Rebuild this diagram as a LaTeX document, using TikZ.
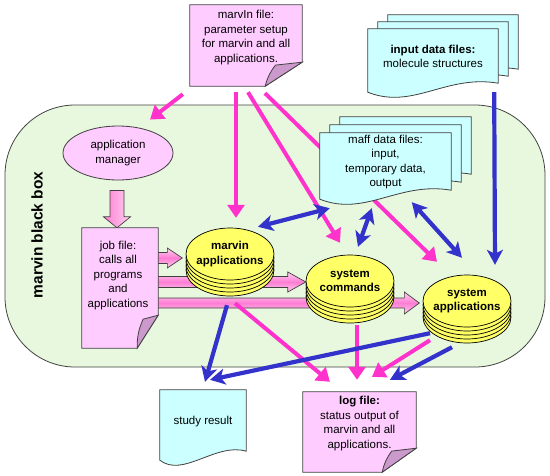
\documentclass[tikz,border=0pt]{standalone}
\usepackage{fontspec}
\setmainfont{Liberation Sans}
\usepackage{xcolor}
\usepackage{tikz}
\usetikzlibrary{arrows.meta,calc,shapes.geometric,positioning}

\definecolor{notepink}{RGB}{255,204,255}
\definecolor{folddark}{RGB}{204,153,204}
\definecolor{doccyan}{RGB}{204,255,255}
\definecolor{boxgreen}{RGB}{232,248,222}
\definecolor{diskyellow}{RGB}{255,255,102}
\definecolor{arrowpink}{RGB}{255,51,204}
\definecolor{arrowblue}{RGB}{51,51,204}
\definecolor{blockpink}{RGB}{255,102,204}
\definecolor{edgegray}{RGB}{64,64,64}

\pgfdeclarelayer{bottom}
\pgfdeclarelayer{back}
\pgfsetlayers{bottom,back,main}

% note page with a turned corner: node, fold width, fold height
\newcommand{\notepage}[3]{%
  \filldraw[notefill] (#1.north west) -- (#1.north east) -- ([yshift=#3]#1.south east)
    -- ([xshift=-#2]#1.south east) -- (#1.south west) -- cycle;
  \filldraw[foldfill] ([xshift=-#2]#1.south east) to[bend left=12]
    ([xshift={-0.72*#2}, yshift={0.88*#3}]#1.south east) -- ([yshift=#3]#1.south east) -- cycle;}
% document page with a wavy lower edge
\newcommand{\docpage}[2][]{%
  \filldraw[docfill,#1] (#2.south west) -- (#2.north west) -- (#2.north east) -- ($(#2.south east)+(0,-9)$)
    .. controls ($(#2.south)+(13,-18)$) and ($(#2.south)+(-20,18)$) .. (#2.south west) -- cycle;}
% pile of disks
\newcommand{\diskpile}[1]{%
  \foreach \drop in {16,12,8,4}{\filldraw[diskfill] ($(#1.center)+(0,\drop)$) ellipse [x radius=44pt, y radius=26pt];}
  \filldraw[diskfill] (#1.center) ellipse [x radius=44pt, y radius=26pt];}
% broad shaded arrow to the right: start, tip, half shaft, half head, head length
\newcommand{\hblock}[5]{%
  \path[blockarrow] let \p1=(#1), \p2=(#2) in
    (\x1,{\y1+#3pt}) -- ({\x2-#5pt},{\y1+#3pt}) -- ({\x2-#5pt},{\y1+#4pt}) -- (\x2,\y1)
    -- ({\x2-#5pt},{\y1-#4pt}) -- ({\x2-#5pt},{\y1-#3pt}) -- (\x1,{\y1-#3pt}) -- cycle;}

\begin{document}
\begin{tikzpicture}[x=1pt, y=-1pt, line join=round,
    txt/.style={font=\fontsize{11.5}{14.5}\selectfont, align=center, inner sep=0pt},
    boldtxt/.style={txt, font=\fontsize{11.5}{14.5}\selectfont\bfseries},
    spot/.style 2 args={inner sep=0pt, minimum width=#1, minimum height=#2},
    notefill/.style={fill=notepink, draw=edgegray, line width=0.8pt},
    foldfill/.style={fill=folddark, draw=edgegray, line width=0.8pt},
    docfill/.style={fill=doccyan, draw=edgegray, line width=0.8pt},
    diskfill/.style={fill=diskyellow, draw=black, line width=0.7pt},
    blockarrow/.style={draw=edgegray, line width=0.7pt, top color=blockpink!30!white,
      bottom color=blockpink!30!white, middle color=blockpink!85!white},
    blockdown/.style={draw=edgegray, line width=0.7pt, left color=blockpink!85!white,
      right color=blockpink!30!white},
    pinkarrow/.style={arrowpink, line width=4pt, -{Triangle[length=13pt,width=17pt]}},
    bluearrow/.style={arrowblue, line width=4.2pt, -{Stealth[length=15pt,width=16pt,inset=4pt]}},
    blueboth/.style={bluearrow, {Stealth[length=15pt,width=16pt,inset=4pt]}-{Stealth[length=15pt,width=16pt,inset=4pt]}}]
    \useasboundingbox (0,0) rectangle (550,475);

    % the black box
    \begin{pgfonlayer}{bottom}
        \node[spot={540pt}{262pt}, fill=boxgreen, draw=edgegray, line width=0.8pt, rounded corners=70pt] (blackbox) at (275,236) {};
    \end{pgfonlayer}
    \node[txt, font=\fontsize{15.5}{18}\selectfont\bfseries, rotate=90] (boxtitle) at (37,235) {marvin black box};

    % files and programs
    \node[spot={112pt}{81pt}] (marvln) at (246,45.5) {};
    \node[txt] (marvlntext) at ($(marvln)+(0,-8)$) {marvIn file:\\parameter setup\\for marvin and all\\applications.};
    \node[spot={130pt}{63pt}] (inputdoc) at (433,60.5) {};
    \node[txt] (inputtext) at ($(inputdoc)+(0,-4)$) {\textbf{input data files:}\\molecule structures};
    \node[spot={131pt}{66pt}] (maffdoc) at (385.5,166) {};
    \node[txt] (mafftext) at ($(maffdoc)+(0,-4)$) {maff data files:\\input,\\temporary data,\\output};
    \node[ellipse, spot={110pt}{54pt}, fill=notepink, draw=edgegray, line width=0.8pt, txt] (appmgr) at (118,153) {application\\manager};
    \node[spot={76pt}{120pt}] (jobfile) at (120,288) {};
    \node[txt] (jobtext) at ($(jobfile)+(-2,-12.5)$) {job file:\\calls all\\programs\\and\\applications};
    \node[ellipse, spot={88pt}{52pt}, boldtxt] (marvapps) at (230,254) {marvin\\applications};
    \node[ellipse, spot={88pt}{52pt}, boldtxt] (syscmd) at (350,281) {system\\commands};
    \node[ellipse, spot={89pt}{52pt}, boldtxt] (sysapps) at (467,301) {system\\applications};
    \node[spot={86pt}{70pt}] (study) at (203,425) {};
    \node[txt] (studytext) at ($(study)+(0,-3)$) {study result};
    \node[spot={113pt}{80pt}] (logfile) at (359.5,432) {};
    \node[txt] (logtext) at ($(logfile)+(0,-8.5)$) {\textbf{log file:}\\status output of\\marvin and all\\applications.};

    \begin{pgfonlayer}{back}
        % job file calls
        \hblock{$(jobfile.east)+(-6,-30)$}{marvapps.west}{5.5}{10}{15}
        \hblock{$(jobfile.east)+(-6,-6)$}{syscmd.west}{5.5}{10}{18}
        \hblock{$(jobfile.east)+(-6,15)$}{sysapps.west}{5}{11}{15}
        \path[blockdown] let \p1=($(appmgr.south)+(-1,10)$), \p2=(jobfile.north) in
            ({\x1-7pt},\y1) -- ({\x1+7pt},\y1) -- ({\x1+7pt},{\y2+11pt}) -- ({\x1+13.5pt},{\y2+11pt})
            -- (\x1,\y2) -- ({\x1-13.5pt},{\y2+11pt}) -- ({\x1-7pt},{\y2+11pt}) -- cycle;
        \draw[pinkarrow] ($(marvln.south)+(19,7)$) -- ($(sysapps.north)+(-30,-13)$);
        % pages
        \notepage{marvln}{37}{24}
        \notepage{jobfile}{21}{33}
        \notepage{logfile}{34}{24}
        \docpage[transform canvas={shift={(20pt,14pt)}}]{inputdoc}
        \docpage[transform canvas={shift={(10pt,7pt)}}]{inputdoc}
        \docpage{inputdoc}
        \docpage[transform canvas={shift={(20pt,16pt)}}]{maffdoc}
        \docpage[transform canvas={shift={(10pt,8pt)}}]{maffdoc}
        \docpage{maffdoc}
        \docpage{study}
        \diskpile{marvapps}
        \diskpile{syscmd}
        \diskpile{sysapps}
    \end{pgfonlayer}

    \draw[pinkarrow] ($(marvln.south west)+(-7,8)$) -- ($(appmgr.north)+(32,-6)$);
    \draw[pinkarrow] ($(marvln.south)+(-10,6)$) -- ($(marvapps.north)+(6,-10)$);
    \draw[pinkarrow] ($(marvln.south)+(2,6)$) -- ($(syscmd.north)+(-10,-12)$);
    \draw[pinkarrow] ($(marvapps.south)+(5,23)$) -- ($(logfile.north)+(-29.5,-10)$);
    \draw[pinkarrow] ($(syscmd.south)+(7,18)$) -- ($(logfile.north)+(-2.5,-12)$);
    \draw[pinkarrow] ($(sysapps.south)+(-37,13)$) -- ($(logfile.north)+(12.5,-15)$);

    \draw[bluearrow] ($(inputdoc.south east)+(-4,0)$) -- ($(sysapps.north)+(28,-10)$);
    \draw[blueboth] ($(maffdoc.south west)+(10,9)$) -- ($(marvapps.north)+(28,-1)$);
    \draw[blueboth] ($(maffdoc.south west)+(52,9)$) -- ($(syscmd.north)+(8,-8)$);
    \draw[blueboth] ($(maffdoc.south west)+(92,3)$) -- ($(sysapps.north)+(-5,-17)$);
    \draw[bluearrow] ($(marvapps.south)+(-3,25)$) -- ($(study.north)+(2,-8)$);
    \draw[bluearrow] ($(sysapps.south)+(-37,6)$) -- ($(study.north)+(7,-10)$);
    \draw[bluearrow] ($(sysapps.south)+(-15,20)$) -- ($(logfile.north)+(30.5,-12)$);
\end{tikzpicture}
\end{document}
